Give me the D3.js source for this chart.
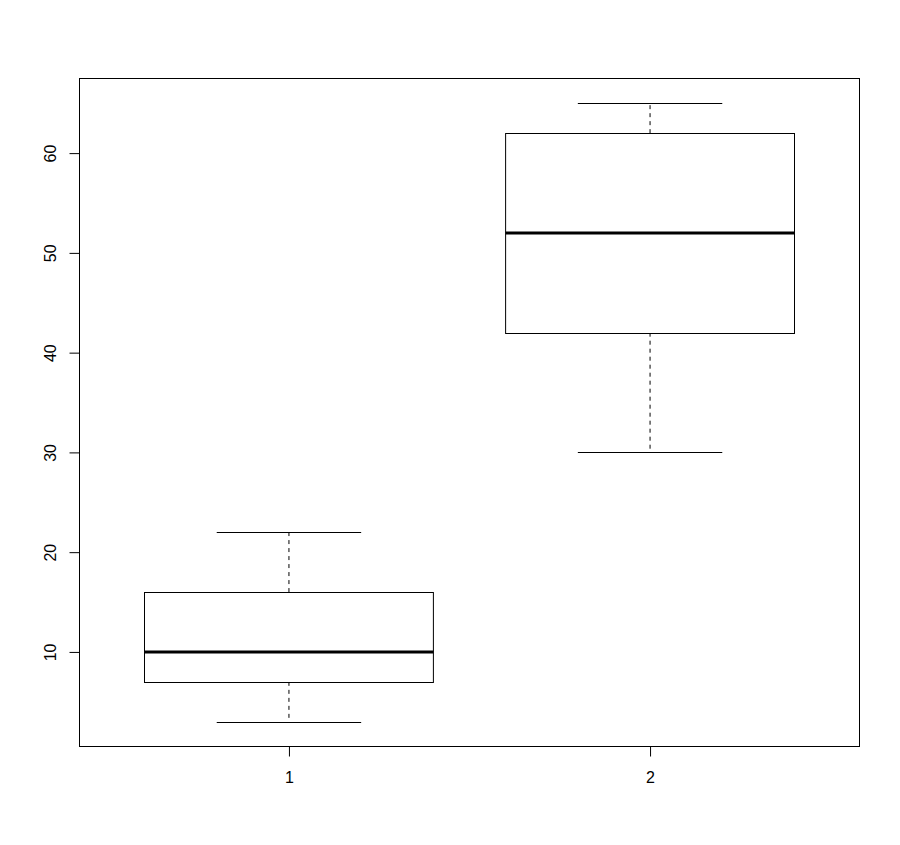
<!DOCTYPE html>
<html>
<head>
<meta charset="utf-8">
<script src="https://cdn.jsdelivr.net/npm/d3@7"></script>
<style>
  body { margin: 0; background: #fff; }
  svg { display: block; font-family: "Liberation Sans", Arial, sans-serif; }
</style>
</head>
<body>
<div id="chart"></div>
<script>
'use strict';

// box statistics
const categories = ['1', '2'];
const lowWhisker = [3, 30];
const lowerQuartile = [7, 42];
const medians = [10, 52];
const upperQuartile = [16, 62];
const highWhisker = [22, 65];
const yTicks = [10, 20, 30, 40, 50, 60];

const boxes = categories.map((c, i) => ({
  key: i + 1,
  label: c,
  low: lowWhisker[i],
  q1: lowerQuartile[i],
  med: medians[i],
  q3: upperQuartile[i],
  high: highWhisker[i],
}));

const width = 900;
const height = 845;
const plot = { left: 79.5, right: 859.5, top: 78.5, bottom: 746.5 };

const svg = d3.select('#chart').append('svg')
  .attr('width', width)
  .attr('height', height);

// R style: 4% padding on the data range
const xScale = d3.scaleLinear()
  .domain([0.42, 2.58])
  .range([plot.left, plot.right]);
const yScale = d3.scaleLinear()
  .domain([0.52, 67.48])
  .range([plot.bottom, plot.top]);

const boxWidth = 0.8;
const capWidth = 0.4;

const g = svg.append('g');

const box = g.selectAll('g.box')
  .data(boxes)
  .enter().append('g')
  .attr('class', 'box');

// whiskers
box.append('line')
  .attr('x1', d => xScale(d.key)).attr('x2', d => xScale(d.key))
  .attr('y1', d => yScale(d.q3)).attr('y2', d => yScale(d.high))
  .attr('stroke', '#000').attr('stroke-dasharray', '4,4');
box.append('line')
  .attr('x1', d => xScale(d.key)).attr('x2', d => xScale(d.key))
  .attr('y1', d => yScale(d.q1)).attr('y2', d => yScale(d.low))
  .attr('stroke', '#000').attr('stroke-dasharray', '4,4');

// caps
['low', 'high'].forEach(k => {
  box.append('line')
    .attr('x1', d => xScale(d.key - capWidth / 2))
    .attr('x2', d => xScale(d.key + capWidth / 2))
    .attr('y1', d => Math.round(yScale(d[k])) + 0.5)
    .attr('y2', d => Math.round(yScale(d[k])) + 0.5)
    .attr('stroke', '#000');
});

// box
box.append('rect')
  .attr('x', d => xScale(d.key - boxWidth / 2))
  .attr('y', d => Math.round(yScale(d.q3)) + 0.5)
  .attr('width', xScale(1 + boxWidth) - xScale(1))
  .attr('height', d => Math.round(yScale(d.q1)) - Math.round(yScale(d.q3)))
  .attr('fill', '#fff')
  .attr('stroke', '#000');

// median
box.append('line')
  .attr('x1', d => xScale(d.key - boxWidth / 2))
  .attr('x2', d => xScale(d.key + boxWidth / 2))
  .attr('y1', d => yScale(d.med)).attr('y2', d => yScale(d.med))
  .attr('stroke', '#000').attr('stroke-width', 3);

// axes
const xAxis = d3.axisBottom(xScale)
  .tickValues(boxes.map(d => d.key))
  .tickFormat((d, i) => categories[i])
  .tickSize(10)
  .tickPadding(15);
const yAxis = d3.axisLeft(yScale)
  .tickValues(yTicks)
  .tickSize(10);

const gx = svg.append('g')
  .attr('transform', `translate(0, ${plot.bottom})`)
  .call(xAxis);
gx.select('.domain').remove();
gx.selectAll('text').attr('font-size', 16).attr('fill', '#000')
  .attr('font-family', '"Liberation Sans", Arial, sans-serif');
gx.selectAll('line').attr('stroke', '#000');

const gy = svg.append('g')
  .attr('transform', `translate(${plot.left}, 0)`)
  .call(yAxis);
gy.select('.domain').remove();
gy.selectAll('line').attr('stroke', '#000');
gy.selectAll('text')
  .attr('font-size', 16).attr('fill', '#000')
  .attr('font-family', '"Liberation Sans", Arial, sans-serif')
  .attr('transform', 'rotate(-90)')
  .attr('text-anchor', 'middle')
  .attr('x', 0)
  .attr('y', -29)
  .attr('dy', '0.35em');

// plot frame
svg.append('rect')
  .attr('x', plot.left)
  .attr('y', plot.top)
  .attr('width', plot.right - plot.left)
  .attr('height', plot.bottom - plot.top)
  .attr('fill', 'none')
  .attr('stroke', '#000');
</script>
</body>
</html>
